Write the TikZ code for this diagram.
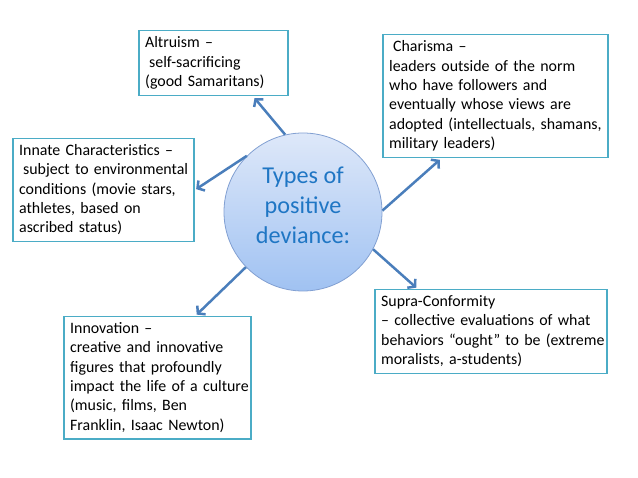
\documentclass[tikz,border=0pt]{standalone}
\usepackage{fontspec}
\setmainfont{Carlito}
\usetikzlibrary{arrows.meta}
\definecolor{boxline}{RGB}{75,172,198}
\definecolor{linkblue}{RGB}{74,126,187}
\definecolor{hubtext}{RGB}{31,118,196}
\definecolor{hubtop}{RGB}{222,232,249}
\definecolor{hubbottom}{RGB}{160,194,242}
\definecolor{hubline}{RGB}{130,160,210}
\newcommand{\leadsp}{\hspace*{0.25em}}
\newcommand{\boxlines}[1]{\begin{tabular}{@{}l@{}}#1\end{tabular}}

\begin{document}
\begin{tikzpicture}[x=1pt,y=-1pt,
    text node/.style={draw=boxline,line width=1.5pt,anchor=north west,align=left,
      inner xsep=6.4pt,inner ysep=3pt,font=\fontsize{15.9}{19.4}\selectfont},
    hub node/.style={circle,draw=hubline,line width=0.8pt,top color=hubtop,
      bottom color=hubbottom,minimum size=158pt,inner sep=0pt},
    link/.style={draw=linkblue,line width=2.5pt,shorten >=2pt,
      -{Straight Barb[length=5pt,width=12pt]}}]
  \useasboundingbox (0,0) rectangle (638,478);

  \node[hub node] (hub) at (303,212) {};
  \node[text=hubtext,align=center,font=\fontsize{24.2}{30}\selectfont] (title)
    at (303,205) {Types of\\positive\\deviance:};

  \node[text node,text width=136.2pt,minimum height=65pt] (altruism) at (138,30)
    {\boxlines{Altruism --\\\leadsp self-sacrificing\\(good Samaritans)}};
  \node[text node,text width=212.2pt,minimum height=123pt] (charisma) at (382,34)
    {\boxlines{\leadsp Charisma --\\leaders outside of the norm\\who have followers and\\
     eventually whose views are\\adopted (intellectuals, shamans,\\military leaders)}};
  \node[text node,text width=168.2pt,minimum height=102pt] (innate) at (12,138)
    {\boxlines{Innate Characteristics --\\\leadsp subject to environmental\\
     conditions (movie stars,\\athletes, based on\\ascribed status)}};
  \node[text node,text width=219.2pt,minimum height=84pt] (supra) at (374,289)
    {\boxlines{Supra-Conformity\\-- collective evaluations of what\\
     behaviors “ought” to be (extreme\\moralists, a-students)}};
  \node[text node,text width=174.2pt,minimum height=122pt] (innovation) at (63,316)
    {\boxlines{Innovation --\\creative and innovative\\figures that profoundly\\
     impact the life of a culture\\(music, films, Ben\\Franklin, Isaac Newton)}};

  \path
    (hub.103) edge[link] ([xshift=40pt]altruism.south)
    (hub.135) edge[link] (innate.east)
    (hub.1)   edge[link] ([xshift=-54pt]charisma.south)
    (hub.-28) edge[link] ([xshift=-73pt]supra.north)
    (hub.224) edge[link] ([xshift=38pt]innovation.north);
\end{tikzpicture}
\end{document}
